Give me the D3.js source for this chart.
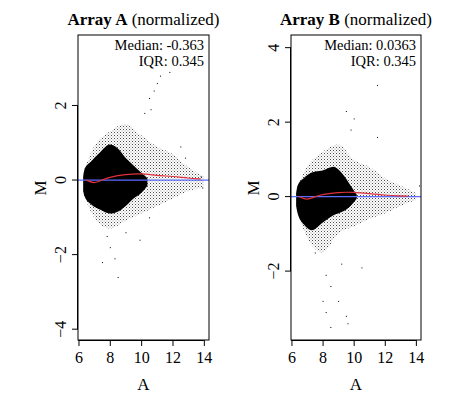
<!DOCTYPE html><html><head><meta charset="utf-8"><script src="https://cdn.jsdelivr.net/npm/d3@7"></script>
<style>body{margin:0;background:#fff}text{font-family:"Liberation Serif","DejaVu Serif",serif}</style></head><body><svg id="c" width="474" height="400"></svg>
<script>
const titlesBold=["Array A","Array B"];
const medians=["Median: -0.363","Median: 0.0363"];
const iqrs=["IQR: 0.345","IQR: 0.345"];
const xTicks=[6,8,10,12,14];
const yTicksA=[-4,-2,0,2];
const yTicksB=[-2,0,2,4];
// envelopes: [A, upper, lower]
const coreA=[[6.3,0.1,-0.3],[6.4,0.3,-0.45],[6.8,0.5,-0.65],[7.4,0.75,-0.8],[8,0.95,-0.9],[8.5,0.85,-0.85],[9,0.6,-0.7],[9.5,0.4,-0.5],[10,0.2,-0.35],[10.4,0.05,-0.15]];
const outerA=[[6.3,0.2,-0.35],[7,0.9,-1.0],[8,1.3,-1.3],[9,1.5,-1.1],[10,1.2,-0.9],[11,0.9,-0.7],[12,0.7,-0.5],[13,0.35,-0.3],[14,0.1,-0.2]];
const coreB=[[6.3,0.1,-0.25],[6.4,0.3,-0.45],[6.8,0.5,-0.75],[7.3,0.65,-0.9],[8,0.7,-0.7],[8.7,0.8,-0.5],[9.3,0.6,-0.4],[9.8,0.3,-0.25],[10.2,0.05,-0.05]];
const outerB=[[6.3,0.2,-0.3],[7,0.8,-1.1],[8,1.2,-1.5],[9,1.4,-1.0],[10,1.0,-0.8],[11,0.8,-0.6],[12,0.5,-0.45],[13,0.3,-0.25],[14,0.1,-0.1]];
const outA=[[10.5,2.2],[10.8,2.4],[11,2.6],[11.2,2.8],[11.8,2.9],[10.2,1.8],[10.6,1.9],[12.5,0.9],[12.8,0.6],[13.8,0.1],[13.9,-0.2],[8,-1.8],[8.3,-2.1],[7.5,-2.2],[8.5,-2.6],[9.9,-1.6],[10.5,-1.0],[9,-1.4],[7.8,-1.5]];
const outB=[[11.5,3.0],[9.5,2.3],[10,2.1],[9.8,1.8],[11.5,1.6],[8.2,-2.1],[8.5,-2.4],[8,-2.8],[8.2,-3.1],[9.5,-3.2],[9.6,-3.4],[8.5,-3.5],[10.5,-1.9],[9,-2.8],[14.2,0.3],[7.5,-1.5],[9.2,-1.8]];
const loessA=[[6.5,0],[7,-0.1],[7.5,0],[8,0.08],[9,0.15],[10,0.18],[11,0.12],[12,0.1],[13,0.05],[13.8,0.03]];
const loessB=[[6.5,0],[7,-0.1],[7.5,0],[8,0.06],[9,0.12],[10,0.12],[11,0.08],[12,0.04],[13,0.02],[13.5,0.01]];

const svg=d3.select("#c");
const defs=svg.append("defs");
const pat=defs.append("pattern").attr("id","dots").attr("width",3).attr("height",3).attr("patternUnits","userSpaceOnUse");
pat.append("rect").attr("x",0).attr("y",0).attr("width",1).attr("height",1).attr("fill","#000");
pat.append("rect").attr("x",1.5).attr("y",1.5).attr("width",1).attr("height",1).attr("fill","#000").attr("opacity",0.6);

const panels=[
 {x0:78,x1:209,yd:[-4.29,3.89],yt:yTicksA,core:coreA,outer:outerA,out:outA,lo:loessA},
 {x0:291,x1:421,yd:[-3.85,4.34],yt:yTicksB,core:coreB,outer:outerB,out:outB,lo:loessB}];
panels.forEach((p,i)=>{
 const x=d3.scaleLinear().domain([5.97,14.33]).range([p.x0,p.x1]);
 const y=d3.scaleLinear().domain(p.yd).range([340,35]);
 const g=svg.append("g");
 const area=d3.area().x(d=>x(d[0])).y0(d=>y(d[2])).y1(d=>y(d[1])).curve(d3.curveMonotoneX);
 g.append("path").attr("d",area(p.outer)).attr("fill","url(#dots)").attr("opacity",0.7);
 g.append("path").attr("d",area(p.core)).attr("fill","#000");
 g.selectAll(".o").data(p.out).join("rect").attr("x",d=>x(d[0])).attr("y",d=>y(d[1])).attr("width",1).attr("height",1).attr("fill","#000");
 g.append("line").attr("x1",p.x0).attr("x2",p.x1).attr("y1",y(0)).attr("y2",y(0)).attr("stroke","#5b6cff").attr("stroke-width",1.2);
 g.append("path").attr("d",d3.line().x(d=>x(d[0])).y(d=>y(d[1])).curve(d3.curveBasis)(p.lo)).attr("fill","none").attr("stroke","#e0303a").attr("stroke-width",1.2);
 g.append("rect").attr("x",p.x0).attr("y",35).attr("width",p.x1-p.x0).attr("height",305).attr("fill","none").attr("stroke","#000");
 const xa=g.append("g").attr("transform","translate(0,340)").call(d3.axisBottom(x).tickValues(xTicks).tickSize(6).tickSizeOuter(0));
 xa.select(".domain").attr("d",`M${x(6)},0.5H${x(14)}`);
 xa.selectAll("text").attr("font-size",16).attr("dy","0.85em").attr("font-family","Liberation Serif");
 const ya=g.append("g").attr("transform",`translate(${p.x0},0)`).call(d3.axisLeft(y).tickValues(p.yt).tickSize(6).tickSizeOuter(0));
 ya.select(".domain").attr("d",`M-0.5,${y(p.yt[0])}V${y(p.yt[p.yt.length-1])}`);
 ya.selectAll("text").attr("font-size",16).attr("font-family","Liberation Serif").attr("text-anchor","middle").attr("x",0).attr("dy",0)
   .attr("transform",d=>`translate(-12,${y(d)}) rotate(-90)`).attr("y",0);
 ya.selectAll(".tick").attr("transform","");
 ya.selectAll(".tick line").attr("transform",d=>`translate(0,${y(d)})`);
 const cx=(p.x0+p.x1)/2;
 const t=g.append("text").attr("x",cx).attr("y",25).attr("text-anchor","middle").attr("font-size",17);
 t.append("tspan").attr("font-weight","bold").text(titlesBold[i]);
 t.append("tspan").text(" (normalized)");
 g.append("text").attr("x",p.x1-5).attr("y",50).attr("text-anchor","end").attr("font-size",14.5).text(medians[i]);
 g.append("text").attr("x",p.x1-5).attr("y",66).attr("text-anchor","end").attr("font-size",14.5).text(iqrs[i]);
 g.append("text").attr("x",cx).attr("y",390).attr("text-anchor","middle").attr("font-size",17).text("A");
 g.append("text").attr("transform",`translate(${p.x0-32},188) rotate(-90)`).attr("text-anchor","middle").attr("font-size",17).text("M");
});
</script></body></html>
